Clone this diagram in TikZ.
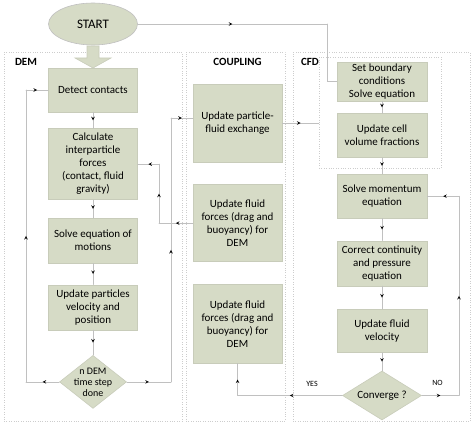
\documentclass[tikz,border=0pt]{standalone}
\usepackage{fontspec}
\setmainfont{Carlito}
\usetikzlibrary{shapes.geometric, positioning, decorations.markings}

\definecolor{relleno}{RGB}{214,219,198}
\definecolor{borde}{RGB}{200,204,186}
\definecolor{gris}{RGB}{192,192,192}
\definecolor{marco}{RGB}{205,205,205}

\begin{document}
\begin{tikzpicture}[>=stealth, x=1pt, y=-1pt, semithick,
  caja/.style={rectangle, draw=borde, fill=relleno, minimum width=89pt, align=center, inner sep=1pt, font=\fontsize{11}{13}\selectfont},
  rombo/.style={diamond, draw=borde, fill=relleno, inner sep=0pt},
  panel/.style={rectangle, draw=marco, dotted, thin, inner sep=0pt},
  titulo/.style={font=\fontsize{11}{13}\selectfont\bfseries},
  etiqueta/.style={font=\fontsize{8}{9}\selectfont},
  tramo/.style={draw=gris, line cap=round},
  flujo/.style={tramo, postaction={decorate}, decoration={markings, mark=at position 0.5 with {\arrow[black]{>}}}}]
  \useasboundingbox (0,0) rectangle (474,425);

  % Paneles
  \node[panel, minimum width=178pt, minimum height=369pt] (dem) at (93,236.5) {};
  \node[panel, minimum width=99pt, minimum height=369pt] (coup) at (235.5,236.5) {};
  \node[panel, minimum width=177pt, minimum height=369pt] (cfd) at (381.5,236.5) {};
  \node[panel, minimum width=122pt, minimum height=111pt] (cfdin) at (380,112.5) {};
  \node[titulo] (tdem) at (26,62) {DEM};
  \node[titulo] (tcoup) at (237.5,62) {COUPLING};
  \node[titulo] (tcfd) at (310,62) {CFD};

  % Inicio
  \node[ellipse, draw=gris, fill=relleno, minimum width=89pt, minimum height=42pt, font=\fontsize{13}{15}\selectfont] (inicio) at (93,24) {START};
  \filldraw[draw=borde, fill=relleno] (87,46) -- (99,46) -- (99,58) -- (111,58) -- (93,68) -- (75,58) -- (87,58) -- cycle;

  % DEM
  \node[caja, minimum height=44pt] (detect) at (93,90) {Detect contacts};
  \node[caja, minimum height=71pt, below=16pt of detect] (calc) {Calculate\\interparticle\\forces\\(contact, fluid\\gravity)};
  \node[caja, minimum height=45pt, below=18pt of calc] (solve) {Solve equation of\\motions};
  \node[caja, minimum height=45pt, below=21pt of solve] (updpart) {Update particles\\velocity and\\position};
  \node[rombo, minimum width=67pt, minimum height=53pt, below=25pt of updpart] (ndem) {};
  \node[align=center, font=\fontsize{10}{11}\selectfont] (ndemtxt) at (ndem) {n DEM\\time step\\done};

  % COUPLING
  \node[caja, minimum height=78pt] (exch) at (237.5,123) {Update particle-\\fluid exchange};
  \node[caja, minimum height=77pt, below=22pt of exch] (fforces) {Update fluid\\forces (drag and\\buoyancy) for\\DEM};
  \node[caja, minimum height=79pt, below=22pt of fforces] (fforces2) {Update fluid\\forces (drag and\\buoyancy) for\\DEM};

  % CFD
  \node[caja, minimum width=90pt, minimum height=39pt] (bound) at (382,81.5) {Set boundary\\conditions\\Solve equation};
  \node[caja, minimum width=90pt, minimum height=44pt, below=12pt of bound] (cell) {Update cell\\volume fractions};
  \node[caja, minimum width=90pt, minimum height=44pt, below=16pt of cell] (mom) {Solve momentum\\equation};
  \node[caja, minimum width=90pt, minimum height=45pt, below=22pt of mom] (corr) {Correct continuity\\and pressure\\equation};
  \node[caja, minimum width=90pt, minimum height=43pt, below=23pt of corr] (vel) {Update fluid\\velocity};
  \node[rombo, minimum width=79pt, minimum height=49pt, below=18pt of vel] (conv) {};
  \node[font=\fontsize{11}{13}\selectfont] (convtxt) at (conv) {Converge ?};
  \node[etiqueta] (si) at (312,384) {YES};
  \node[etiqueta] (no) at (437.5,383) {NO};

  % Lados de los lazos
  \coordinate (ladoizq) at (26,0);
  \coordinate (ladoder) at (171,0);
  \coordinate (ladomed) at (159,0);
  \coordinate (ladostart) at (327,0);
  \coordinate (ladono) at (459,0);
  \coordinate (exchin) at ([yshift=5pt]exch.west);

  % Flechas verticales
  \foreach \a/\b in {detect/calc, calc/solve, solve/updpart, updpart/ndem, bound/cell, cell/mom, mom/corr, corr/vel, vel/conv}
    \draw[flujo] (\a) -- (\b);

  % START -> CFD
  \draw[flujo] (inicio.east) -- (inicio.east -| ladostart);
  \draw[tramo] (inicio.east -| ladostart) -- (bound.west -| ladostart) -- (bound.west);

  % Lazo izquierdo
  \draw[flujo] (ndem.west) -- (ndem.west -| ladoizq);
  \draw[flujo] (ndem.west -| ladoizq) -- (detect.west -| ladoizq);
  \draw[flujo] (detect.west -| ladoizq) -- (detect.west);

  % Lazo derecho
  \draw[flujo] (ndem.east) -- (ndem.east -| ladoder);
  \draw[flujo] (ndem.east -| ladoder) -- (exchin -| ladoder);
  \draw[flujo] (exchin -| ladoder) -- (exchin);

  % Fuerzas -> DEM
  \draw[flujo] (fforces.west) -- (fforces.west -| ladomed);
  \draw[flujo] (fforces.west -| ladomed) -- (calc.east -| ladomed);
  \draw[flujo] (calc.east -| ladomed) -- (calc.east);

  % Intercambio -> CFD
  \draw[flujo] (exch.east) -- (exch.east -| cfdin.west);

  % YES
  \draw[flujo] (conv.west) -- (conv.west -| fforces2.south);
  \draw[flujo] (conv.west -| fforces2.south) -- (fforces2.south);

  % NO
  \draw[flujo] (conv.east) -- (conv.east -| ladono);
  \draw[flujo] (conv.east -| ladono) -- (mom.east -| ladono);
  \draw[flujo] (mom.east -| ladono) -- (mom.east);
\end{tikzpicture}
\end{document}
